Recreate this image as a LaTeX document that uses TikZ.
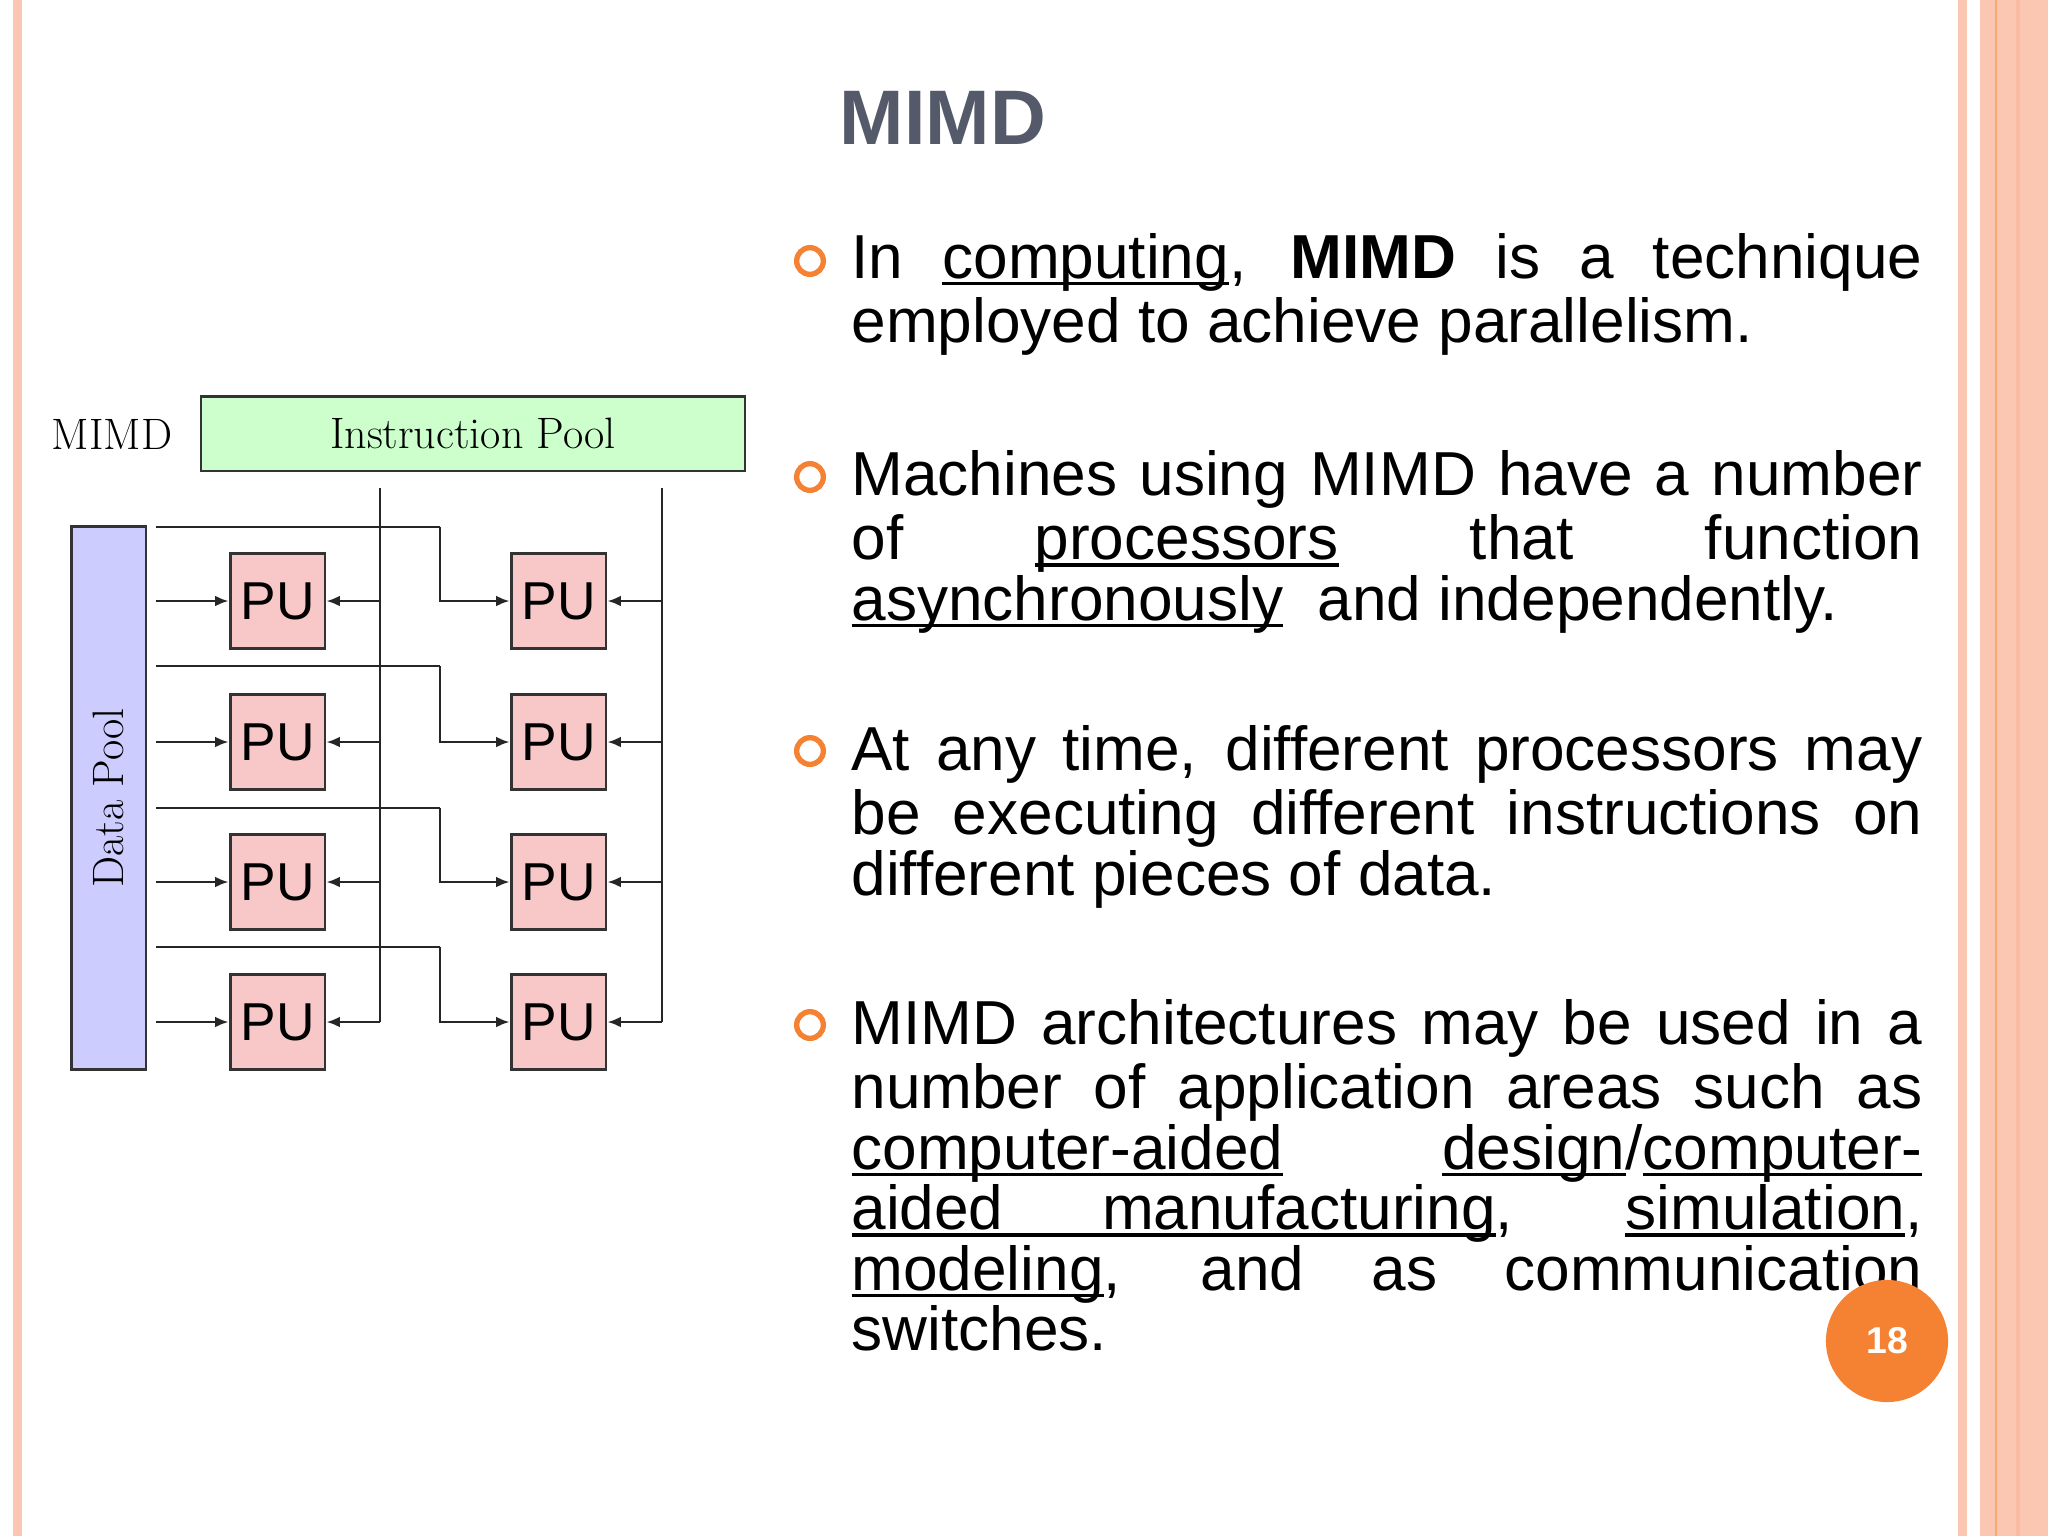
\documentclass[tikz,border=0pt]{standalone}
\usepackage{fontspec}
\setmainfont{Liberation Sans}
\newfontfamily\serifdiag{Latin Modern Roman}
\newcommand\myul[1]{\leavevmode\setbox0\hbox{#1}\rlap{\rule[-2.6pt]{\wd0}{1.2pt}}\box0\relax}
\usetikzlibrary{arrows.meta}
\definecolor{salmon}{HTML}{FBC6B2}
\definecolor{orng}{HTML}{F58233}
\definecolor{titlegray}{HTML}{545A6A}
\definecolor{pgreen}{HTML}{CCFFCC}
\definecolor{pblue}{HTML}{CCCCFF}
\definecolor{ppink}{HTML}{F8C8C8}
\begin{document}
\begin{tikzpicture}[x=0.375pt,y=-0.375pt,
  box/.style={draw=black!80,line width=1.1pt,inner sep=0pt},
  pu/.style={box,fill=ppink,minimum width=35.6pt,minimum height=35.3pt,font=\fontsize{20}{20}\selectfont},
  wire/.style={line width=0.9pt,black!85},
  arr/.style={wire,-{Latex[length=5pt,width=4pt]}},
  para/.style={anchor=north west,inner sep=0pt,text width=401.6pt,align=justify,font=\fontsize{23.3}{20.4}\selectfont},
  bul/.style={circle,draw=orng,line width=2pt,minimum size=10pt,inner sep=0pt},
  dfont/.style={font=\serifdiag\fontsize{16.5}{16.5}\selectfont}]
\useasboundingbox (0,0) rectangle (2048,1536);
\fill[white] (0,0) rectangle (2048,1536);
% borders
\fill[salmon] (13,0) rectangle (22,1536);
\fill[salmon] (1958,0) rectangle (1967,1536);
\fill[salmon] (1980,0) rectangle (2048,1536);
\draw[orng!70,line width=0.6pt] (1996,0) -- (1996,1536);
\fill[salmon!120] (2016,0) rectangle (2020,1536);
% title
\node[font=\fontsize{29}{29}\selectfont\bfseries,text=titlegray] (title) at (943,118) {MIMD};
% diagram
\node[dfont] (mimdlbl) at (112,434) {MIMD};
\node[box,fill=pgreen,minimum width=204pt,minimum height=28.1pt,dfont] (ipool) at (473,433.5) {Instruction Pool};
\node[box,fill=pblue,minimum width=28.1pt,minimum height=203.3pt] (dpool) at (108.5,798) {};
\node[rotate=90,dfont] (dptext) at (108.5,798) {Data Pool};
\foreach \i/\y in {1/601,2/742,3/882,4/1022}{
  \node[pu] (L\i) at (277.5,\y) {PU};
  \node[pu] (R\i) at (558.5,\y) {PU};
}
\coordinate (v1t) at (380,488); \coordinate (v1b) at (380,1022);
\coordinate (v2t) at (662,488); \coordinate (v2b) at (662,1022);
\foreach \i/\y/\u in {1/601/527,2/742/666,3/882/808,4/1022/947}{
  \coordinate (d\i) at (156,\y);
  \coordinate (u\i) at (156,\u);
  \coordinate (k\i) at (440,\u);
  \coordinate (m\i) at (440,\y);
  \coordinate (a\i) at (380,\y);
  \coordinate (b\i) at (662,\y);
  \draw[arr] (d\i) -- (L\i.west);
  \draw[wire] (u\i) -- (k\i);
  \draw[arr] (k\i) -- (m\i) -- (R\i.west);
  \draw[arr] (a\i) -- (L\i.east);
  \draw[arr] (b\i) -- (R\i.east);
}
\draw[wire] (v1t) -- (v1b);
\draw[wire] (v2t) -- (v2b);
% bullets
\foreach \n/\y in {1/261,2/477,3/751,4/1025}{\node[bul] (bul\n) at (810,\y) {};}
% text
\node[para] (p1) at (851,233) {\strut In \myul{computing}, \textbf{MIMD} is a technique\linebreak employed to achieve parallelism.};
\node[para] (p2) at (851,450) {\strut Machines using MIMD have a number\linebreak of \myul{processors} that function\linebreak \myul{asynchronously} \ and independently.};
\node[para] (p3) at (851,725) {\strut At any time, different processors may\linebreak be executing different instructions on\linebreak different pieces of data.};
\node[para] (p4) at (851,999) {\strut MIMD architectures may be used in a\linebreak number of application areas such as\linebreak \myul{computer-aided} \myul{design}/\myul{computer-}\linebreak \myul{aided\hspace{37pt}manufacturing}, \myul{simulation},\linebreak \myul{modeling}, and as communication\linebreak switches.};
% page number
\node[circle,fill=orng,minimum size=45.8pt,inner sep=0pt,text=white,font=\fontsize{14}{14}\selectfont\bfseries] (pg) at (1887,1341) {18};
\end{tikzpicture}
\end{document}
